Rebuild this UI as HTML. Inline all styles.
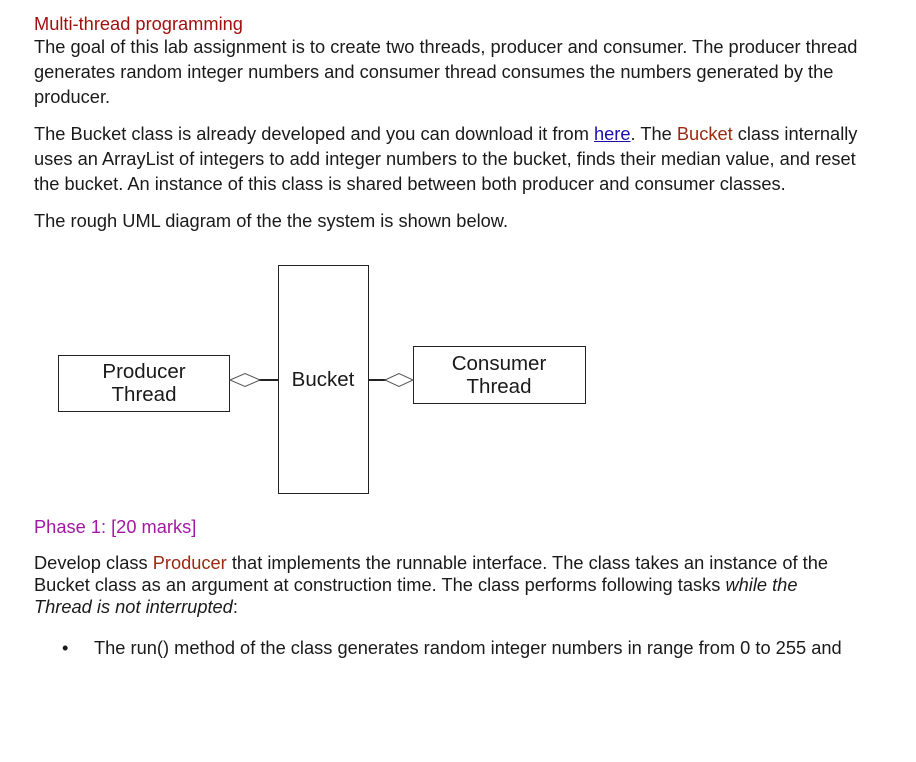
<!DOCTYPE html>
<html><head><meta charset="utf-8"><style>
body{margin:0;width:916px;height:762px;background:#fff;position:relative;overflow:hidden;font-family:"Liberation Sans",sans-serif;font-size:18.25px;color:#1a1a1a}
.l{position:absolute;left:34px;white-space:nowrap;line-height:20px}
.r{color:#a30f0f}.b{color:#9a2a12}.p{color:#a318a3}
a{color:#1a0dab;text-decoration:underline}
</style></head><body>
<div class="l r" style="top:14px">Multi-thread programming</div>
<div class="l" style="top:37px">The goal of this lab assignment is to create two threads, producer and consumer. The producer thread</div>
<div class="l" style="top:62px">generates random integer numbers and consumer thread consumes the numbers generated by the</div>
<div class="l" style="top:87px">producer.</div>
<div class="l" style="top:124px">The Bucket class is already developed and you can download it from <a>here</a>. The <span class="b">Bucket</span> class internally</div>
<div class="l" style="top:149px">uses an ArrayList of integers to add integer numbers to the bucket, finds their median value, and reset</div>
<div class="l" style="top:174px">the bucket. An instance of this class is shared between both producer and consumer classes.</div>
<div class="l" style="top:211px">The rough UML diagram of the the system is shown below.</div>
<svg style="position:absolute;left:0;top:0" width="916" height="762">
<g fill="#fff" stroke="#222" stroke-width="1">
<rect x="58.5" y="355.5" width="171" height="56"/>
<rect x="278.5" y="265.5" width="90" height="228"/>
<rect x="413.5" y="346.5" width="172" height="57"/>
</g>
<line x1="259" y1="380" x2="278" y2="380" stroke="#222" stroke-width="2"/>
<line x1="368" y1="380" x2="386" y2="380" stroke="#222" stroke-width="2"/>
<polygon points="230,380 245,373.5 260,380 245,386.5" fill="#fff" stroke="#555" stroke-width="1"/>
<polygon points="385,380 399,373.5 413,380 399,386.5" fill="#fff" stroke="#555" stroke-width="1"/>
<g font-family="Liberation Sans,sans-serif" font-size="20.5" fill="#1a1a1a" text-anchor="middle">
<text x="144" y="378">Producer</text><text x="144" y="401">Thread</text>
<text x="323" y="386">Bucket</text>
<text x="499" y="370">Consumer</text><text x="499" y="393">Thread</text>
</g>
</svg>
<div class="l p" style="top:517px">Phase 1: [20 marks]</div>
<div class="l" style="top:553px">Develop class <span class="b">Producer</span> that implements the runnable interface. The class takes an instance of the</div>
<div class="l" style="top:575px">Bucket class as an argument at construction time. The class performs following tasks <i>while the</i></div>
<div class="l" style="top:597px"><i>Thread is not interrupted</i>:</div>
<div class="l" style="top:638px;left:62px">•</div>
<div class="l" style="top:638px;left:94px">The run() method of the class generates random integer numbers in range from 0 to 255 and</div>
</body></html>
